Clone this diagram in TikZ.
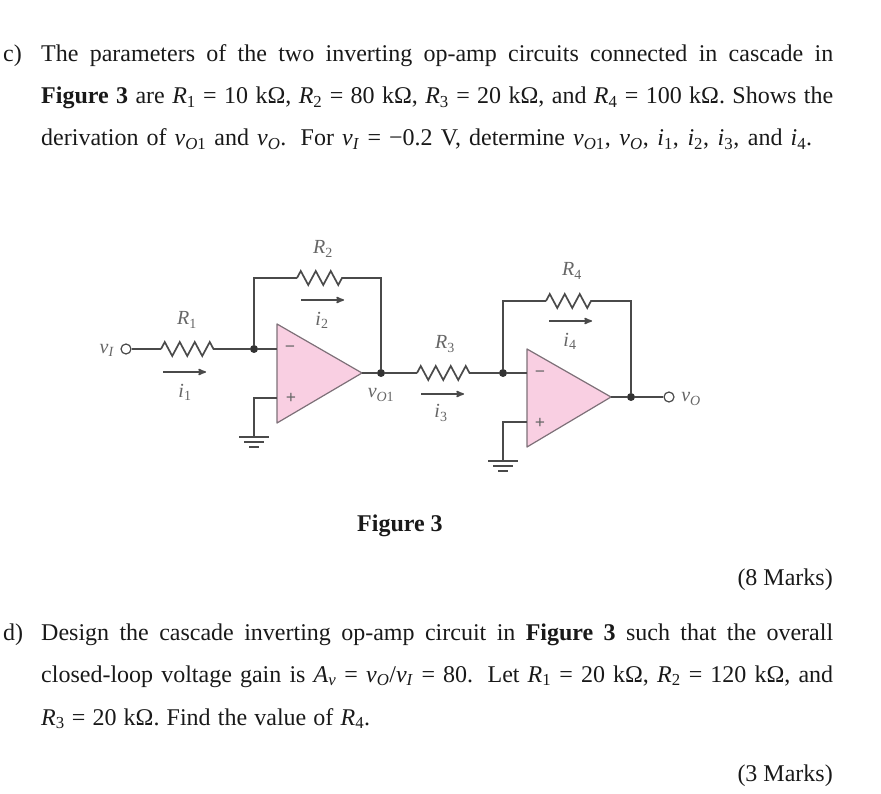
\documentclass[tikz,border=0pt]{standalone}
\usepackage{amsmath, amssymb}
\usepackage{fontspec}
\setmainfont{Liberation Serif}
\usepackage{xcolor}
\usetikzlibrary{arrows, positioning, decorations.pathmorphing}
\definecolor{wiregray}{HTML}{4A4A4A}
\definecolor{labelgray}{HTML}{666666}
\definecolor{amppink}{HTML}{F9CFE2}
\definecolor{ampedge}{HTML}{7D7078}
\newcommand{\cirlbl}[2]{\textit{#1}\textsubscript{#2}}

\begin{document}
\begin{tikzpicture}[x=1pt, y=-1pt, >=stealth']
    \tikzstyle{textline} = [anchor=base west, inner sep=0pt, text=black!90, font=\fontsize{24}{24}\selectfont]
    \tikzstyle{textright} = [textline, anchor=base east]
    \tikzstyle{cirlabel} = [inner sep=0pt, text=labelgray, font=\fontsize{20}{20}\selectfont]
    \tikzstyle{wire} = [draw=wiregray, line width=1.5pt]
    \tikzstyle{resistor} = [wire, line width=1.7pt, decorate, decoration={zigzag, segment length=15pt, amplitude=7pt}]
    \tikzstyle{opamp} = [draw=ampedge, fill=amppink, line width=1.2pt, line join=round]
    \tikzstyle{junction} = [circle, fill=black!80, inner sep=0pt, minimum size=8pt]
    \tikzstyle{terminal} = [circle, draw=wiregray, fill=white, line width=1.2pt, inner sep=0pt, minimum size=10pt]
    \tikzstyle{current} = [->, draw=wiregray, line width=1.6pt]
    \tikzstyle{sign} = [inner sep=0pt, text=labelgray, font=\fontsize{18}{18}\selectfont\bfseries]
    \useasboundingbox (0,0) rectangle (881,794);

    % question c
    \node [textline] at (3,62) (labelc) {c)};
    \node [textline] at (41,62) (linec1) {\makebox[792pt][s]{The parameters of the two inverting op-amp circuits connected in cascade in}};
    \node [textline] at (41,104) (linec2) {\makebox[792pt][s]{\textbf{Figure 3} are \cirlbl{R}{1} = 10 kΩ, \cirlbl{R}{2} = 80 kΩ, \cirlbl{R}{3} = 20 kΩ, and \cirlbl{R}{4} = 100 kΩ. Shows the}};
    \node [textline] at (41,146) (linec3) {\makebox[771pt][s]{derivation of \cirlbl{v}{\textit{O}1} and \cirlbl{v}{\textit{O}}. For \cirlbl{v}{\textit{I}} = −0.2 V, determine \cirlbl{v}{\textit{O}1}, \cirlbl{v}{\textit{O}}, \cirlbl{i}{1}, \cirlbl{i}{2}, \cirlbl{i}{3}, and \cirlbl{i}{4}.}};

    % first stage
    \coordinate (top1) at (277,324);
    \coordinate (tip1) at (362,373);
    \coordinate (bot1) at (277,423);
    \draw [opamp] (top1) -- (tip1) -- (bot1) -- cycle;
    \node [terminal] at (126,349) (vi) {};
    \node [junction] at (254,349) (n1) {};
    \node [junction] at (381,373) (vo1) {};
    \coordinate (r1a) at (161,349);
    \coordinate (r1b) at (215,349);
    \coordinate (inm1) at (277,349);
    \coordinate (inp1) at (277,398);
    \coordinate (gndin1) at (254,398);
    \coordinate (gnd1) at (254,437);
    \coordinate (fbl1) at (254,278);
    \coordinate (fbr1) at (381,278);
    \coordinate (r2a) at (297,278);
    \coordinate (r2b) at (349,278);
    \draw [wire] (vi) -- (r1a);
    \draw [resistor] (r1a) -- (r1b);
    \draw [wire] (r1b) -- (n1) -- (inm1);
    \draw [wire] (n1) -- (fbl1) -- (r2a);
    \draw [resistor] (r2a) -- (r2b);
    \draw [wire] (r2b) -- (fbr1) -- (vo1);
    \draw [wire] (tip1) -- (vo1);
    \draw [wire] (inp1) -- (gndin1) -- (gnd1);
    \draw [wire] ([xshift=-15pt]gnd1) -- ([xshift=15pt]gnd1);
    \draw [wire] ([xshift=-10pt,yshift=-5pt]gnd1) -- ([xshift=10pt,yshift=-5pt]gnd1);
    \draw [wire] ([xshift=-5pt,yshift=-10pt]gnd1) -- ([xshift=5pt,yshift=-10pt]gnd1);
    \node [sign] at (290,349) (minus1) {−};
    \node [sign] at (291,398) (plus1) {+};
    \node [cirlabel] at (107,350) (lblvi) {\cirlbl{v}{\textit{I}}};
    \node [cirlabel] at (187,320) (lblr1) {\cirlbl{R}{1}};
    \node [cirlabel] at (323,249) (lblr2) {\cirlbl{R}{2}};
    \node [cirlabel] at (185,392) (lbli1) {\cirlbl{i}{1}};
    \node [cirlabel] at (322,320) (lbli2) {\cirlbl{i}{2}};
    \node [cirlabel] at (381,395) (lblvo1) {\cirlbl{v}{\textit{O}1}};
    \coordinate (i1a) at (163,372);
    \coordinate (i1b) at (206,372);
    \coordinate (i2a) at (301,300);
    \coordinate (i2b) at (344,300);
    \draw [current] (i1a) -- (i1b);
    \draw [current] (i2a) -- (i2b);

    % second stage
    \coordinate (top2) at (527,349);
    \coordinate (tip2) at (611,397);
    \coordinate (bot2) at (527,447);
    \draw [opamp] (top2) -- (tip2) -- (bot2) -- cycle;
    \node [junction] at (503,373) (n2) {};
    \node [junction] at (631,397) (n3) {};
    \node [terminal] at (669,397) (vo) {};
    \coordinate (r3a) at (417,373);
    \coordinate (r3b) at (471,373);
    \coordinate (inm2) at (527,373);
    \coordinate (inp2) at (527,422);
    \coordinate (gndin2) at (503,422);
    \coordinate (gnd2) at (503,461);
    \coordinate (fbl2) at (503,301);
    \coordinate (fbr2) at (631,301);
    \coordinate (r4a) at (546,301);
    \coordinate (r4b) at (598,301);
    \draw [wire] (vo1) -- (r3a);
    \draw [resistor] (r3a) -- (r3b);
    \draw [wire] (r3b) -- (n2) -- (inm2);
    \draw [wire] (n2) -- (fbl2) -- (r4a);
    \draw [resistor] (r4a) -- (r4b);
    \draw [wire] (r4b) -- (fbr2) -- (n3);
    \draw [wire] (tip2) -- (n3) -- (vo);
    \draw [wire] (inp2) -- (gndin2) -- (gnd2);
    \draw [wire] ([xshift=-15pt]gnd2) -- ([xshift=15pt]gnd2);
    \draw [wire] ([xshift=-10pt,yshift=-5pt]gnd2) -- ([xshift=10pt,yshift=-5pt]gnd2);
    \draw [wire] ([xshift=-5pt,yshift=-10pt]gnd2) -- ([xshift=5pt,yshift=-10pt]gnd2);
    \node [sign] at (540,374) (minus2) {−};
    \node [sign] at (540,423) (plus2) {+};
    \node [cirlabel] at (445,344) (lblr3) {\cirlbl{R}{3}};
    \node [cirlabel] at (572,271) (lblr4) {\cirlbl{R}{4}};
    \node [cirlabel] at (441,413) (lbli3) {\cirlbl{i}{3}};
    \node [cirlabel] at (570,341) (lbli4) {\cirlbl{i}{4}};
    \node [cirlabel] at (691,399) (lblvo) {\cirlbl{v}{\textit{O}}};
    \coordinate (i3a) at (421,394);
    \coordinate (i3b) at (464,394);
    \coordinate (i4a) at (549,321);
    \coordinate (i4b) at (592,321);
    \draw [current] (i3a) -- (i3b);
    \draw [current] (i4a) -- (i4b);

    \node [textline, font=\fontsize{24}{24}\selectfont\bfseries] at (357,531) (caption) {Figure 3};
    \node [textright] at (833,585) (marksc) {(8 Marks)};

    % question d
    \node [textline] at (3,640) (labeld) {d)};
    \node [textline] at (41,640) (lined1) {\makebox[792pt][s]{Design the cascade inverting op-amp circuit in \textbf{Figure 3} such that the overall}};
    \node [textline] at (41,682) (lined2) {\makebox[792pt][s]{closed-loop voltage gain is \cirlbl{A}{\textit{v}} = \cirlbl{v}{\textit{O}}/\cirlbl{v}{\textit{I}} = 80. Let \cirlbl{R}{1} = 20 kΩ, \cirlbl{R}{2} = 120 kΩ, and}};
    \node [textline] at (41,725) (lined3) {\makebox[329pt][s]{\cirlbl{R}{3} = 20 kΩ. Find the value of \cirlbl{R}{4}.}};
    \node [textright] at (833,781) (marksd) {(3 Marks)};
\end{tikzpicture}
\end{document}
